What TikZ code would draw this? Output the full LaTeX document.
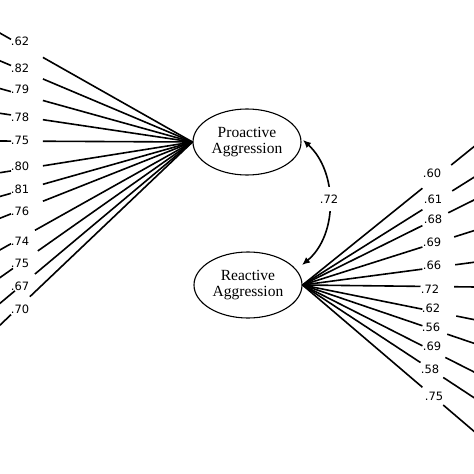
\documentclass[tikz,border=0pt]{standalone}
\usepackage{fontspec}
\setmainfont{Liberation Serif}
\newfontfamily\lblfont{DejaVu Sans}
\usetikzlibrary{shapes.geometric,arrows.meta,calc}
\begin{document}
\begin{tikzpicture}[x=1pt,y=-1pt,
  latent/.style={ellipse,draw,line width=1.1pt,minimum width=108pt,minimum height=66pt,inner sep=0pt,align=center,font=\fontsize{15.5}{16.5}\selectfont},
  load/.style={line width=1.6pt},
  coef/.style={font=\lblfont\fontsize{11.5}{13}\selectfont,inner sep=0pt},
  corr/.style={line width=1.6pt,{Latex[length=8pt,width=7pt]}-{Latex[length=8pt,width=7pt]}}]
\useasboundingbox (0,0) rectangle (474,474);
\clip (0,0) rectangle (474,474);
\node[latent] (P) at (247,142) {Proactive\\Aggression};
\node[latent] (R) at (248,285) {Reactive\\Aggression};
% left loadings
\foreach \i/\fy/\a/\b/\ly/\lab in {
  1/32/0.769/0.933/41/.62,
  2/60/0.769/0.933/68/.82,
  3/88/0.769/0.933/89/.79,
  4/113/0.769/0.933/117/.78,
  5/141/0.769/0.933/140/.75,
  6/173/0.769/0.933/166/.80,
  7/197/0.769/0.933/189/.81,
  8/219/0.769/0.933/211/.76,
  9/251/0.810/0.933/241/.74,
  10/279/0.795/0.923/263/.75,
  11/305/0.810/0.913/286/.67,
  12/327/0.836/0.933/309/.70}{
  \coordinate (lf\i) at (-2,\fy);
  \draw[load] (P.west) -- ($(P.west)!\a!(lf\i)$);
  \draw[load] ($(P.west)!\b!(lf\i)$) -- (lf\i);
  \node[coef] (ll\i) at (20,\ly) {\lab};
}
% right loadings
\foreach \i/\fy/\a/\b/\lx/\ly/\lab in {
  1/145/0.691/0.857/432/173/.60,
  2/176/0.691/0.863/433/199/.61,
  3/199/0.691/0.840/433/219/.68,
  4/230/0.691/0.874/432/242/.69,
  5/262/0.691/0.880/432/265/.66,
  6/287/0.680/0.874/430/289/.72,
  7/320/0.691/0.886/431/308/.62,
  8/344/0.691/0.834/431/327/.56,
  9/373/0.691/0.823/432/346/.69,
  10/399/0.680/0.811/430/369/.58,
  11/433/0.691/0.811/434/396/.75}{
  \coordinate (rf\i) at (476,\fy);
  \draw[load] (R.east) -- ($(R.east)!\a!(rf\i)$);
  \draw[load] ($(R.east)!\b!(rf\i)$) -- (rf\i);
  \node[coef] (rl\i) at (\lx,\ly) {\lab};
}
% correlation
\coordinate (ptip) at (303,140);
\coordinate (rtip) at (302,265);
\draw[corr] (ptip) .. controls (338,172) and (338,235) .. (rtip);
\node[coef,fill=white,inner xsep=3pt,inner ysep=8pt] (c) at (329,199) {.72};
\end{tikzpicture}
\end{document}
